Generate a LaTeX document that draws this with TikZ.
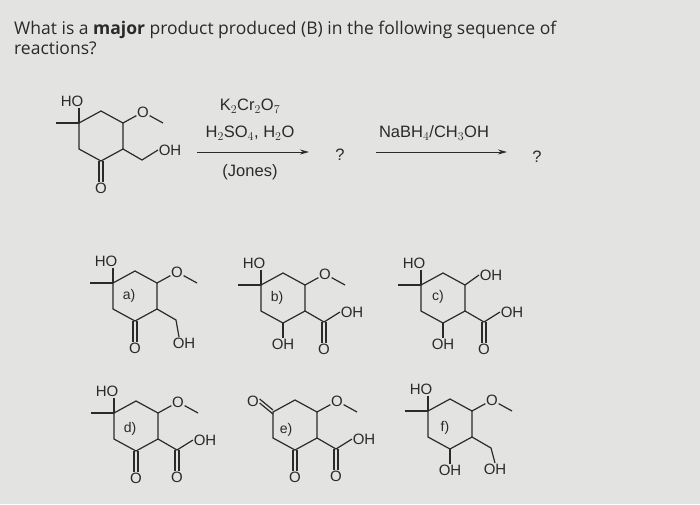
\documentclass[tikz,border=0pt]{standalone}
\usepackage{fontspec}
\setmainfont{Liberation Sans}
\newfontfamily\qfont{Open Sans}
\usetikzlibrary{arrows.meta,calc}
\definecolor{ink}{HTML}{2A2A2A}
\definecolor{bg}{HTML}{E3E3E1}
\tikzset{
  bond/.style={draw=ink, line width=1.2pt},
  atom/.style={inner sep=0.6pt, text=ink, font=\fontsize{15}{15}\selectfont},
  lab/.style={inner sep=0pt, text=ink, font=\fontsize{14}{14}\selectfont},
  rxn/.style={inner sep=1pt, text=ink, font=\fontsize{16.5}{16.5}\selectfont},
  rarrow/.style={draw=ink, line width=1pt, -{Stealth[length=9pt,width=5pt]}},
  ring/.pic={
    \coordinate (-v1) at (0,-25); \coordinate (-v2) at (22,-13);
    \coordinate (-v3) at (22,13);  \coordinate (-v4) at (0,25);
    \coordinate (-v5) at (-22,13); \coordinate (-v6) at (-22,-13);
    \draw[bond] (-v1) -- (-v2) -- (-v3) -- (-v4) -- (-v5) -- (-v6) -- cycle;
  }
}
\newcommand\hometh[1]{%
  \draw[bond] (#1-v6) -- ++(0,-15) node[atom, anchor=south, xshift=-7pt] (#1-ho) {HO};
  \draw[bond] (#1-v6) -- ++(-23,0) coordinate (#1-me);}
\newcommand\methoxy[1]{%
  \node[atom] (#1-om) at ($(#1-v2)+(20,-11)$) {O};
  \draw[bond] (#1-v2) -- (#1-om);
  \draw[bond] (#1-om) -- ++(20,11) coordinate (#1-ome);}
\newcommand\ketone[2]{%
  \node[atom] (#1-ko) at ($(#1-#2)+(0,27)$) {O};
  \draw[bond] ($(#1-#2)+(-2,0)$) -- ($(#1-ko.north)+(-2,0)$);
  \draw[bond] ($(#1-#2)+(2,0)$) -- ($(#1-ko.north)+(2,0)$);}
\newcommand\cooh[1]{%
  \coordinate (#1-cc) at ($(#1-v3)+(19,11)$);
  \draw[bond] (#1-v3) -- (#1-cc);
  \node[atom] (#1-co) at ($(#1-cc)+(0,27)$) {O};
  \draw[bond] ($(#1-cc)+(-2,0)$) -- ($(#1-co.north)+(-2,0)$);
  \draw[bond] ($(#1-cc)+(2,0)$) -- ($(#1-co.north)+(2,0)$);
  \node[atom, anchor=west] (#1-coh) at ($(#1-cc)+(16,-10)$) {OH};
  \draw[bond] (#1-cc) -- (#1-coh.west);}
\begin{document}
\begin{tikzpicture}[x=1pt,y=-1pt]
\fill[bg] (0,0) rectangle (700,504);
\useasboundingbox (0,0) rectangle (700,504);
% question
\node[anchor=north west, inner sep=0pt, text=ink, align=left,
  font=\qfont\fontsize{17.5}{20}\selectfont] (q) at (14,21)
  {What is a \textbf{major} product produced (B) in the following sequence of\\ reactions?};
% starting material
\pic (s) at (101,136) {ring};
\hometh{s}\methoxy{s}
\coordinate (s-ch) at ($(s-v3)+(19,11)$);
\node[atom, anchor=west] (s-oh) at ($(s-ch)+(16,-10)$) {OH};
\draw[bond] (s-v3) -- (s-ch) -- (s-oh.west);
\ketone{s}{v4}
% reaction arrows
\coordinate (a1s) at (197,152); \coordinate (a1e) at (309,152);
\draw[rarrow] (a1s) -- (a1e);
\node[rxn] (k) at (250,106) {K$_2$Cr$_2$O$_7$};
\node[rxn] (h) at (250,133) {H$_2$SO$_4$, H$_2$O};
\node[rxn] (j) at (250,172) {(Jones)};
\node[rxn] (q1) at (340,155) {?};
\coordinate (a2s) at (376,152); \coordinate (a2e) at (507,152);
\draw[rarrow] (a2s) -- (a2e);
\node[rxn] (n) at (434,133) {NaBH$_4$/CH$_3$OH};
\node[rxn] (q2) at (537,157) {?};
% a)
\pic (a) at (135,296) {ring};
\hometh{a}\methoxy{a}\ketone{a}{v4}
\coordinate (a-ch) at ($(a-v3)+(19,11)$);
\node[atom, anchor=north] (a-oh) at ($(a-ch)+(8,17)$) {OH};
\draw[bond] (a-v3) -- (a-ch) -- ($(a-oh.north)+(-5,0)$);
\node[lab] (a-l) at (129,296) {a)};
% b)
\pic (b) at (283,298) {ring};
\hometh{b}\methoxy{b}\cooh{b}
\node[atom, anchor=north] (b-oh) at ($(b-v4)+(0,15)$) {OH};
\draw[bond] (b-v4) -- (b-oh.north);
\node[lab] (b-l) at (277,298) {b)};
% c)
\pic (c) at (443,298) {ring};
\hometh{c}\cooh{c}
\node[atom, anchor=west] (c-oh2) at ($(c-v2)+(14,-10)$) {OH};
\draw[bond] (c-v2) -- (c-oh2.west);
\node[atom, anchor=north] (c-oh) at ($(c-v4)+(0,15)$) {OH};
\draw[bond] (c-v4) -- (c-oh.north);
\node[lab] (c-l) at (438,297) {c)};
% d)
\pic (d) at (136,426) {ring};
\hometh{d}\methoxy{d}\cooh{d}\ketone{d}{v4}
\node[lab] (d-l) at (130,429) {d)};
% e)
\pic (e) at (295,425) {ring};
\methoxy{e}\cooh{e}\ketone{e}{v4}
\node[atom] (e-o6) at ($(e-v6)+(-20,-11)$) {O};
\draw[bond] ($(e-v6)+(0,-2)$) -- ($(e-o6.east)+(0,-2)$);
\draw[bond] ($(e-v6)+(0,2)$) -- ($(e-o6.east)+(0,2)$);
\node[lab] (e-l) at (286,430) {e)};
% f)
\pic (f) at (450,424) {ring};
\hometh{f}\methoxy{f}
\node[atom, anchor=north] (f-oh) at ($(f-v4)+(0,15)$) {OH};
\draw[bond] (f-v4) -- (f-oh.north);
\coordinate (f-ch) at ($(f-v3)+(19,11)$);
\node[atom, anchor=north] (f-oh2) at ($(f-ch)+(4,15)$) {OH};
\draw[bond] (f-v3) -- (f-ch) -- (f-oh2.north);
\node[lab] (f-l) at (445,428) {f)};
\end{tikzpicture}
\end{document}
